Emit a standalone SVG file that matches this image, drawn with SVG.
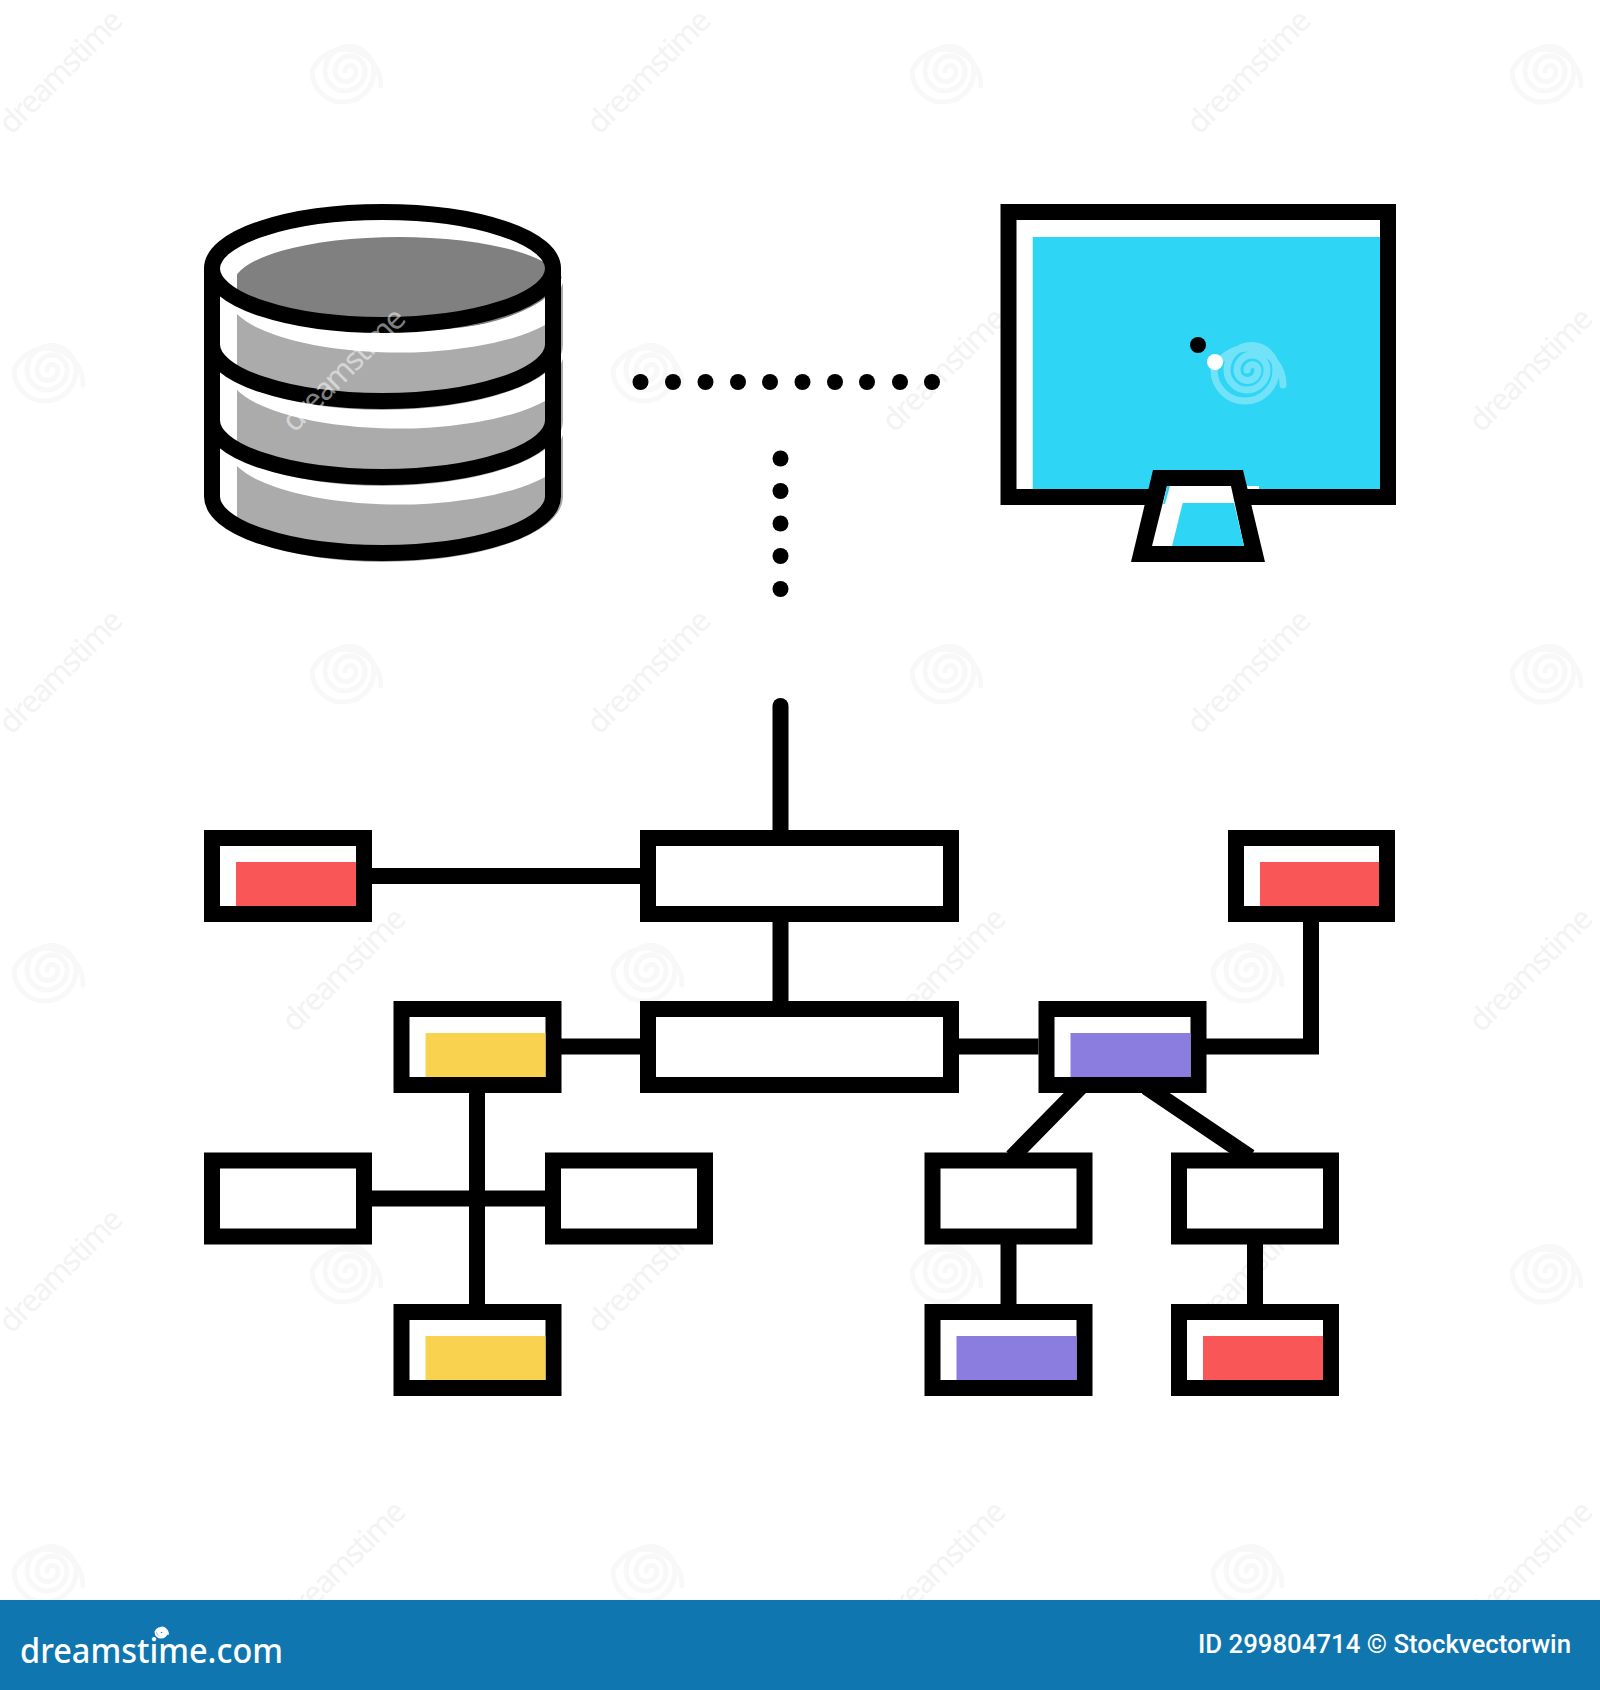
<svg xmlns="http://www.w3.org/2000/svg" width="1600" height="1690" viewBox="0 0 1600 1690">
<style>
.o{fill:none;stroke:#000;stroke-width:16}
.b{fill:#fff;stroke:#000;stroke-width:16}
.r{fill:#f95757}.y{fill:#f9d250}.p{fill:#8a7ddf}
.t{fill:#ababab}
.c{fill:none;stroke:#000;stroke-width:16}
.d{fill:#000}
.s{fill:none;stroke:#f8f8f8;stroke-width:5;stroke-linecap:round}
.w{font-family:"Noto Sans",sans-serif;font-size:31px;fill:#f3f3f3;text-anchor:middle}
</style>
<defs>
<path id="sp" d="M33 15A36 36 0 0 0-36 0A31 31 0 0 0 26 0A24.500 24.500 0 0 0-23 0A20 20 0 0 0 17 0A15 15 0 0 0-13 0A10.500 10.500 0 0 0 8 0A5.500 5.500 0 0 0-3 0"/>
<clipPath id="dbc"><path d="M237 200H570V345H237Z"/></clipPath>
<clipPath id="dbe"><ellipse cx="384" cy="270" rx="179" ry="65"/></clipPath>
</defs>
<rect width="1600" height="1690" fill="#fff"/>
<g id="watermark">
<use href="#sp" class="s" x="348" y="71"/><use href="#sp" class="s" x="948" y="71"/><use href="#sp" class="s" x="1548" y="71"/>
<use href="#sp" class="s" x="50" y="370"/><use href="#sp" class="s" x="649" y="370"/>
<use href="#sp" class="s" x="348" y="671"/><use href="#sp" class="s" x="948" y="671"/><use href="#sp" class="s" x="1548" y="671"/>
<use href="#sp" class="s" x="50" y="970"/><use href="#sp" class="s" x="649" y="970"/><use href="#sp" class="s" x="1249" y="970"/>
<use href="#sp" class="s" x="348" y="1271"/><use href="#sp" class="s" x="948" y="1271"/><use href="#sp" class="s" x="1548" y="1271"/>
<use href="#sp" class="s" x="50" y="1571"/><use href="#sp" class="s" x="649" y="1571"/><use href="#sp" class="s" x="1249" y="1571"/>
<text class="w" transform="translate(68 79) rotate(-45)" textLength="160">dreamstime</text>
<text class="w" transform="translate(656 79) rotate(-45)" textLength="160">dreamstime</text>
<text class="w" transform="translate(1256 79) rotate(-45)" textLength="160">dreamstime</text>
<text class="w" transform="translate(951 377) rotate(-45)" textLength="160">dreamstime</text>
<text class="w" transform="translate(1538 377) rotate(-45)" textLength="160">dreamstime</text>
<text class="w" transform="translate(68 679) rotate(-45)" textLength="160">dreamstime</text>
<text class="w" transform="translate(656 679) rotate(-45)" textLength="160">dreamstime</text>
<text class="w" transform="translate(1256 679) rotate(-45)" textLength="160">dreamstime</text>
<text class="w" transform="translate(351 977) rotate(-45)" textLength="160">dreamstime</text>
<text class="w" transform="translate(951 977) rotate(-45)" textLength="160">dreamstime</text>
<text class="w" transform="translate(1538 977) rotate(-45)" textLength="160">dreamstime</text>
<text class="w" transform="translate(68 1278) rotate(-45)" textLength="160">dreamstime</text>
<text class="w" transform="translate(656 1278) rotate(-45)" textLength="160">dreamstime</text>
<text class="w" transform="translate(1256 1278) rotate(-45)" textLength="160">dreamstime</text>
<text class="w" transform="translate(351 1570) rotate(-45)" textLength="160">dreamstime</text>
<text class="w" transform="translate(951 1570) rotate(-45)" textLength="160">dreamstime</text>
<text class="w" transform="translate(1538 1570) rotate(-45)" textLength="160">dreamstime</text>
</g>
<g id="connectors">
<path class="c" stroke-linecap="round" d="M780.500 706V830"/>
<path class="c" d="M780.500 922V1001M372 876H640M561 1046.500H640M959 1046.500H1038.500M1206 1046.500H1311V922M477 1093V1304M372 1198.500H545M1080.700 1087L1012 1157M1146.400 1087L1250 1157M1008.500 1244V1304M1255 1244V1304"/>
<g id="dots-horizontal" class="d">
<circle cx="640.500" cy="382" r="8"/><circle cx="673" cy="382" r="8"/><circle cx="705.500" cy="382" r="8"/><circle cx="738" cy="382" r="8"/><circle cx="770" cy="382" r="8"/><circle cx="802.500" cy="382" r="8"/><circle cx="835" cy="382" r="8"/><circle cx="867" cy="382" r="8"/><circle cx="900" cy="382" r="8"/><circle cx="932" cy="382" r="8"/>
</g>
<g id="dots-vertical" class="d">
<circle cx="780.500" cy="458.500" r="8"/><circle cx="780.500" cy="491" r="8"/><circle cx="780.500" cy="523.500" r="8"/><circle cx="780.500" cy="556" r="8"/><circle cx="780.500" cy="589" r="8"/>
</g>
</g>
<g id="database">
<path class="t" d="M237 314A170.500 56.500 0 0 0 545 325L563 283V345A179 65 0 0 1 237 382Z"/>
<path class="t" d="M237 390A170.500 56.500 0 0 0 545 401L563 359V421A179 65 0 0 1 237 458Z"/>
<path class="t" d="M237 466A170.500 56.500 0 0 0 545 477L563 435V497A179 65 0 0 1 237 534Z"/>
<g clip-path="url(#dbe)"><ellipse cx="398.500" cy="284" rx="165" ry="47" fill="#808080" clip-path="url(#dbc)"/></g>
<ellipse class="o" cx="382.500" cy="268.500" rx="170.500" ry="56.500"/>
<path class="o" d="M212 268.500V496.500A170.500 56.500 0 0 0 553 496.500V268.500M212 344.500A170.500 56.500 0 0 0 553 344.500M212 420.500A170.500 56.500 0 0 0 553 420.500"/>
</g>
<g id="monitor">
<rect class="b" x="1008.500" y="212" width="379.500" height="285"/>
<rect x="1032.700" y="237" width="347.300" height="252" fill="#2fd5f5"/>
<path d="M1247 486H1259V489H1247Z" fill="#fff"/>
<use href="#sp" x="1250" y="370" style="fill:none;stroke:#fff;stroke-opacity:.32;stroke-width:7;stroke-linecap:round"/>
<circle class="d" cx="1198" cy="345" r="8"/>
<circle cx="1215" cy="362" r="8" fill="#fff"/>
<path d="M1153 470H1243L1265 562H1131Z" fill="#000"/>
<path d="M1167 486H1231L1244 546H1152Z" fill="#fff"/>
<path d="M1182.700 503H1234L1244 546H1172Z" fill="#2fd5f5"/>
<path d="M1167 486H1170L1165 504H1163Z" fill="#2fd5f5"/>
</g>
<g id="box-red-left"><rect class="b" x="212" y="838" width="152" height="76"/><rect class="r" x="236" y="862" width="120" height="44"/></g>
<g id="box-main-top"><rect class="b" x="648" y="838" width="303" height="76"/></g>
<g id="box-red-right"><rect class="b" x="1236" y="838" width="151" height="76"/><rect class="r" x="1260" y="862" width="119" height="44"/></g>
<g id="box-yellow"><rect class="b" x="401.500" y="1009" width="152" height="76"/><rect class="y" x="425.500" y="1033" width="120" height="44"/></g>
<g id="box-main-bottom"><rect class="b" x="648" y="1009" width="303" height="76"/></g>
<g id="box-purple"><rect class="b" x="1046.500" y="1009" width="152" height="76"/><rect class="p" x="1070.500" y="1033" width="120" height="44"/></g>
<g id="box-white-left"><rect class="b" x="212" y="1160.500" width="152" height="76"/></g>
<g id="box-white-right"><rect class="b" x="553" y="1160.500" width="152" height="76"/></g>
<g id="box-white-a"><rect class="b" x="932.500" y="1160.500" width="152" height="76"/></g>
<g id="box-white-b"><rect class="b" x="1179" y="1160.500" width="152" height="76"/></g>
<g id="box-yellow-bottom"><rect class="b" x="401.500" y="1312" width="152" height="76"/><rect class="y" x="425.500" y="1336" width="120" height="44"/></g>
<g id="box-purple-bottom"><rect class="b" x="932.500" y="1312" width="152" height="76"/><rect class="p" x="956.500" y="1336" width="120" height="44"/></g>
<g id="box-red-bottom"><rect class="b" x="1179" y="1312" width="152" height="76"/><rect class="r" x="1203" y="1336" width="120" height="44"/></g>
<text transform="translate(351 377) rotate(-45)" textLength="160" style="font-family:'Noto Sans',sans-serif;font-size:31px;fill:#fff;fill-opacity:.5;text-anchor:middle">dreamstime</text>
<g id="footer">
<rect y="1600" width="1600" height="90" fill="#0f76b0"/>
<text x="20" y="1663" textLength="263" lengthAdjust="spacingAndGlyphs" style="font-family:'Noto Sans',sans-serif;font-size:34px;font-weight:500;fill:#fff">dreamstime.com</text>
<g transform="translate(162 1632) scale(.18)"><use href="#sp" style="fill:none;stroke:#fff;stroke-width:11"/></g>
<text x="1198" y="1653" textLength="373" lengthAdjust="spacingAndGlyphs" style="font-family:Roboto,sans-serif;font-size:25px;font-weight:500;fill:#fff">ID 299804714 © Stockvectorwin</text>
</g>
</svg>
